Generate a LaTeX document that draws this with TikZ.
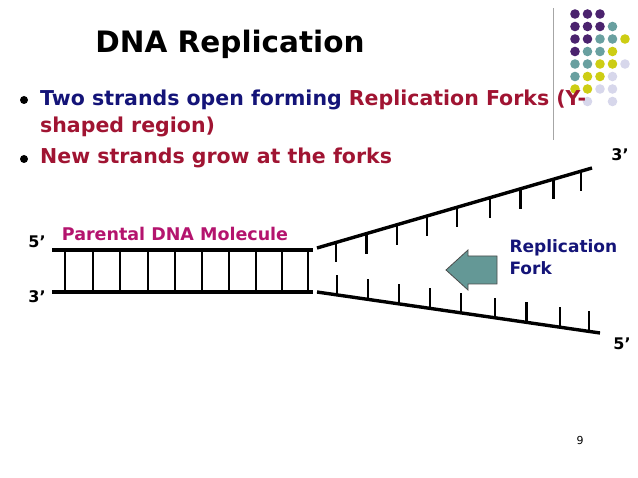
\documentclass[tikz,border=0pt]{standalone}
\usepackage{fontspec}
\setmainfont{DejaVu Sans}
\usetikzlibrary{calc}
\definecolor{navy}{RGB}{20,20,120}
\definecolor{crim}{RGB}{160,20,50}
\definecolor{mag}{RGB}{180,20,110}
\definecolor{teal1}{RGB}{100,152,150}
\definecolor{dP}{RGB}{75,35,110}
\definecolor{dT}{RGB}{105,160,160}
\definecolor{dY}{RGB}{205,205,20}
\definecolor{dL}{RGB}{215,215,235}
\definecolor{dN}{RGB}{255,255,255}
\tikzset{strand/.style={line width=3.4pt},rung/.style={line width=2.2pt},
 lbl/.style={font=\fontsize{16}{16}\selectfont\bfseries},
 bul/.style={font=\fontsize{20.5}{22}\selectfont\bfseries,anchor=west,inner sep=0}}
\begin{document}
\begin{tikzpicture}[x=1pt,y=-1pt]
\useasboundingbox (0,0) rectangle (638,478);
% title
\node (title) [font=\fontsize{29.5}{32}\selectfont\bfseries] at (230,44) {DNA Replication};
% decoration
\draw[gray!70,line width=1pt] (553,8) -- (553,140);
\foreach \r/\row in {0/{P,P,P,N,N},1/{P,P,P,T,N},2/{P,P,T,T,Y},3/{P,T,T,Y,N},4/{T,T,Y,Y,L},5/{T,Y,Y,L,N},6/{Y,Y,L,L,N},7/{N,L,N,L,N}}{
  \foreach \c [count=\i from 0] in \row {
    \fill[d\c] ({575+12.5*\i},{14+12.5*\r}) circle (4.8);}}
% bullets
\fill (24,100) circle (4);
\fill (24,159) circle (4);
\node (b1) [bul,navy] at (40,100) {Two strands open forming \textcolor{crim}{Replication Forks (Y-}};
\node (b1b) [bul,crim] at (40,127) {shaped region)};
\node (b2) [bul,crim] at (40,158) {New strands grow at the forks};
% ladder
\coordinate (tl) at (52,250); \coordinate (tr) at (313,250);
\coordinate (bl) at (52,292); \coordinate (br) at (313,292);
\draw[strand] (tl) -- (tr); \draw[strand] (bl) -- (br);
\foreach \x in {65,93,120,148,175,202,229,256,282,308}
  \draw[rung] (\x,250) -- (\x,292);
\node (f5) [lbl] at (37,242) {5'};
\node (f3) [lbl] at (37,297) {3'};
\node (par) [mag,font=\fontsize{17.5}{17}\selectfont\bfseries] at (175,234) {Parental DNA Molecule};
% fork
\coordinate (us) at (317,248); \coordinate (ue) at (592,168);
\coordinate (ls) at (317,292); \coordinate (le) at (600,333);
\draw[strand] (us) -- (ue); \draw[strand] (ls) -- (le);
\foreach \t in {0.07,0.18,0.29,0.40,0.51,0.63,0.74,0.86,0.96}{
  \draw[rung] ($(us)!\t!(ue)$) -- ++(0,20);
  \draw[rung] ($(ls)!\t!(le)$) -- ++(0,-20);}
\node (t3) [lbl] at (620,155) {3'};
\node (t5) [lbl] at (622,344) {5'};
\draw[black!70,fill=teal1,line width=0.8pt] (446,270) -- (468,250) -- (468,256) -- (497,256) -- (497,284) -- (468,284) -- (468,290) -- cycle;
\node (rf) [navy,font=\fontsize{17}{22}\selectfont\bfseries,align=left,anchor=north west] at (506,236) {Replication\\Fork};
\node (pg) [font=\fontsize{11}{11}\selectfont\rmfamily] at (580,440) {9};
\end{tikzpicture}
\end{document}
